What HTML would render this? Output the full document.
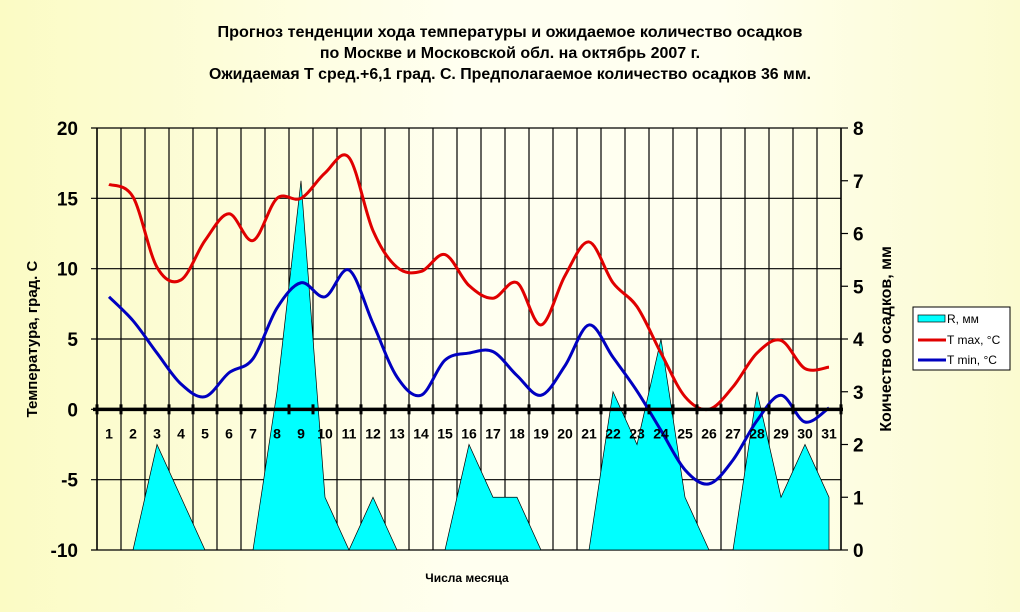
<!DOCTYPE html>
<html><head><meta charset="utf-8"><style>
html,body{margin:0;padding:0;}
body{width:1020px;height:607px;overflow:hidden;background:linear-gradient(90deg,#fbfbc4 0%,#fffff0 45%,#fffff0 70%,#fbfbd0 100%);font-family:"Liberation Sans",sans-serif;}
svg text{font-family:"Liberation Sans",sans-serif;}
</style></head><body>
<svg id="c" width="1020" height="607">
<g font-weight="bold" font-size="16" text-anchor="middle" fill="#000">
<text x="510" y="37" textLength="585" lengthAdjust="spacingAndGlyphs">Прогноз тенденции хода температуры и ожидаемое количество осадков</text>
<text x="510" y="58">по Москве и Московской обл. на октябрь 2007 г.</text>
<text x="510" y="79" textLength="602" lengthAdjust="spacingAndGlyphs">Ожидаемая Т сред.+6,1 град. С. Предполагаемое количество осадков 36 мм.</text>
</g>
<g id="grid"></g>
<g id="rain"></g>
<g id="lines"></g>
<g id="axes"></g>
<text transform="translate(37,339) rotate(-90)" text-anchor="middle" font-size="15" font-weight="bold">Температура, град. С</text>
<text transform="translate(891,339) rotate(-90)" text-anchor="middle" font-size="16" font-weight="bold">Коичество осадков, мм</text>
<text x="467" y="582" text-anchor="middle" font-size="12" font-weight="bold">Числа месяца</text>
<g>
<rect x="913" y="307" width="97" height="63" fill="#fff" stroke="#000" stroke-width="1"/>
<g><rect x="918" y="315" width="27" height="7" fill="#00ffff" stroke="#000" stroke-width="0.7"/><text x="947" y="323" font-size="12">R, мм</text></g>
<g><line x1="918" y1="340" x2="946" y2="340" stroke="#e00000" stroke-width="3"/><text x="947" y="344" font-size="12">T max, °C</text></g>
<g><line x1="918" y1="360" x2="946" y2="360" stroke="#0000c0" stroke-width="3"/><text x="947" y="364" font-size="12">T min, °C</text></g>
</g>
</svg>
<script>
const days=[1,2,3,4,5,6,7,8,9,10,11,12,13,14,15,16,17,18,19,20,21,22,23,24,25,26,27,28,29,30,31];
const tmax=[16,15.1,10.1,9.2,12,13.9,12,15,15,16.8,17.9,12.7,10.1,9.8,11,8.8,7.9,9,6,9.5,11.9,9,7.3,4,0.9,0,1.6,4,4.9,2.9,3];
const tmin=[8,6.3,4,1.8,0.9,2.6,3.6,7.2,9,8,9.9,6.1,2.3,1,3.5,4,4.1,2.4,1,3.1,6,3.7,1.3,-1.5,-4.3,-5.3,-3.6,-0.8,1,-0.9,0.1];
const rain=[0,0,2,1,0,0,0,3,7,1,0,1,0,0,0,2,1,1,0,0,0,3,2,4,1,0,0,3,1,2,1];
const yTicks=[20,15,10,5,0,-5,-10];
const y2Ticks=[0,1,2,3,4,5,6,7,8];
const NS='http://www.w3.org/2000/svg';
const X0=97,COL=24,YT=128,YB=550;
const xs=d=>X0+COL*(d-0.5);
const yT=t=>YT+(20-t)*(YB-YT)/30;
const yR=r=>YB-r*(YB-YT)/8;
function mk(tag,attrs,parent){const e=document.createElementNS(NS,tag);for(const k in attrs)e.setAttribute(k,attrs[k]);parent.appendChild(e);return e;}
const grid=document.getElementById('grid'),axes=document.getElementById('axes'),rainG=document.getElementById('rain'),linesG=document.getElementById('lines');
for(let i=0;i<=days.length;i++){const g=mk('line',{x1:X0+COL*i,x2:X0+COL*i,y1:YT,y2:YB,stroke:'#000','stroke-width':1.2},grid);

}
yTicks.forEach(t=>{const l=mk('line',{x1:X0-6,x2:X0+COL*31,y1:yT(t),y2:yT(t),stroke:'#000','stroke-width':1.2},grid);


const tx=mk('text',{x:78,y:yT(t)+7,'text-anchor':'end','font-size':19,'font-weight':'bold'},axes);tx.textContent=t;

});
y2Ticks.forEach(r=>{const l=mk('line',{x1:841,x2:848,y1:yR(r),y2:yR(r),stroke:'#000','stroke-width':1.2},axes);


const tx=mk('text',{x:853,y:yR(r)+7,'font-size':19,'font-weight':'bold'},axes);tx.textContent=r;

});
mk('line',{x1:X0,x2:X0,y1:YT,y2:YB,stroke:'#000','stroke-width':1.5},axes);
mk('line',{x1:841,x2:841,y1:YT,y2:YB,stroke:'#000','stroke-width':1.5},axes);
let d='M'+xs(days[1])+','+yR(0);
for(let i=1;i<days.length;i++)d+=' L'+xs(days[i])+','+yR(rain[i]);
d+=' L'+xs(days[days.length-1])+','+yR(0)+' Z';
const area=mk('path',{d:d,fill:'#00ffff',stroke:'#000','stroke-width':0.7},rainG);


const z=mk('line',{x1:X0-4,x2:X0+COL*31+2,y1:yT(0),y2:yT(0),stroke:'#000','stroke-width':3.5},axes);


for(let i=0;i<=31;i++){const m=mk('line',{x1:X0+COL*i,x2:X0+COL*i,y1:yT(0)-5,y2:yT(0)+5,stroke:'#000','stroke-width':3},axes);

}
days.forEach(dd=>{const t=mk('text',{x:xs(dd),y:yT(0)+29,'text-anchor':'middle','font-size':14,'font-weight':'bold'},axes);t.textContent=dd;

});
function spline(vals){const p=days.map((dd,i)=>[xs(dd),yT(vals[i])]);let s='M'+p[0][0]+','+p[0][1];
for(let i=0;i<p.length-1;i++){const p0=p[Math.max(0,i-1)],p1=p[i],p2=p[i+1],p3=p[Math.min(p.length-1,i+2)];
const c1=[p1[0]+(p2[0]-p0[0])/6,p1[1]+(p2[1]-p0[1])/6],c2=[p2[0]-(p3[0]-p1[0])/6,p2[1]-(p3[1]-p1[1])/6];
s+=' C'+c1[0]+','+c1[1]+' '+c2[0]+','+c2[1]+' '+p2[0]+','+p2[1];}return s;}
const l1=mk('path',{d:spline(tmax),fill:'none',stroke:'#e00000','stroke-width':3},linesG);


const l2=mk('path',{d:spline(tmin),fill:'none',stroke:'#0000c0','stroke-width':3},linesG);


</script>
</body></html>
